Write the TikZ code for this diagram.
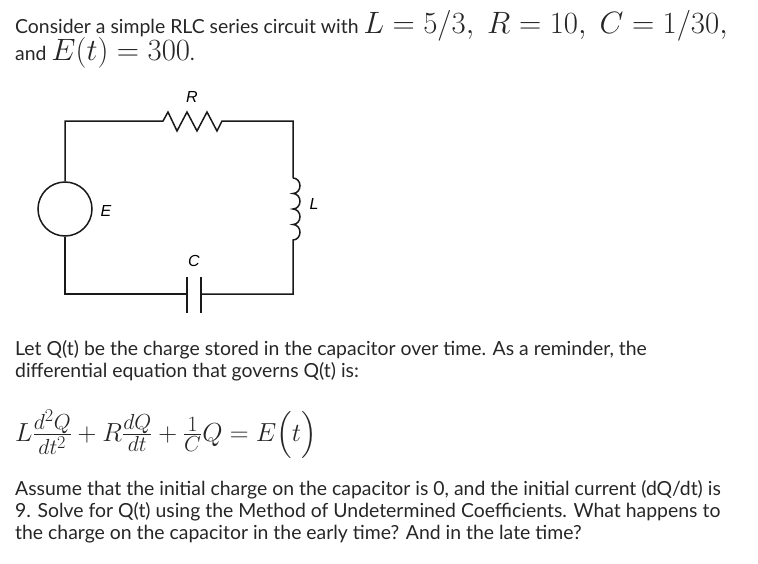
\documentclass[tikz,border=0pt]{standalone}
\usepackage{graphicx}
\usepackage{amsmath}
\usepackage{fontspec}
\setmainfont{Lato}
\setsansfont{Liberation Sans}
\begin{document}
\begin{tikzpicture}[x=1pt,y=-1pt,
  txt/.style={anchor=west,inner sep=0pt,font=\fontsize{19.4}{22}\selectfont,text=black!85},
  lbl/.style={inner sep=0pt,font=\sffamily\itshape\fontsize{16}{18}\selectfont},
  wire/.style={line width=1.5pt,black!90},
  ind/.style={start angle=-90,end angle=90,x radius=7,y radius=7.75}]
\useasboundingbox (0,0) rectangle (758,563);
% text
\node[txt] (t1) at (15,26) {Consider a simple RLC series circuit with \scalebox{1.24}{\fontsize{24.88}{27}\selectfont$L=5/3,\ R=10,\ C=1/30,$}};
\node[txt] (t2) at (15,53) {and \scalebox{1.24}{\fontsize{24.88}{27}\selectfont$E(t)=300$}.};
\node[txt] (t3) at (15,350) {Let Q(t) be the charge stored in the capacitor over time. As a reminder, the};
\node[txt] (t4) at (15,372) {differential equation that governs Q(t) is:};
\node[txt] (eq) at (15,434) {\scalebox{1.05}{\fontsize{24.88}{27}\selectfont$L\tfrac{d^2Q}{dt^2}+R\tfrac{dQ}{dt}+\tfrac{1}{C}Q=E\Bigl(t\Bigr)$}};
\node[txt] (t5) at (15,490) {Assume that the initial charge on the capacitor is 0, and the initial current (dQ/dt) is};
\node[txt] (t6) at (15,512) {9. Solve for Q(t) using the Method of Undetermined Coefficients. What happens to};
\node[txt] (t7) at (15,534) {the charge on the capacitor in the early time? And in the late time?};
% circuit
\coordinate (tl) at (65,121); \coordinate (tr) at (293,121);
\coordinate (bl) at (65,294); \coordinate (br) at (293,294);
\node[draw,wire,circle,minimum size=54pt,inner sep=0pt] (E) at (65,209) {};
\coordinate (r1) at (163,121); \coordinate (r2) at (222,121);
\coordinate (l1) at (293,178); \coordinate (l2) at (293,240);
\coordinate (c1) at (187,294); \coordinate (c2) at (201,294);
\draw[wire] (E.north) -- (tl) -- (r1) -- ++(5,-9) -- ++(9,19) -- ++(10,-19) -- ++(10,19) -- ++(10,-19) -- ++(10,19) -- ++(5,-10) -- (r2) -- (tr) -- (l1);
\draw[wire] (l1) arc[ind] arc[ind] arc[ind] arc[ind] -- (br) -- (c2);
\draw[wire] (E.south) -- (bl) -- (c1);
\draw[wire] (187,277) -- (187,313) (201,277) -- (201,313);
\node[lbl] (R) at (192,97) {R};
\node[lbl] (El) at (106,211) {E};
\node[lbl] (L) at (314,204) {L};
\node[lbl] (C) at (194,261) {C};
\end{tikzpicture}
\end{document}
